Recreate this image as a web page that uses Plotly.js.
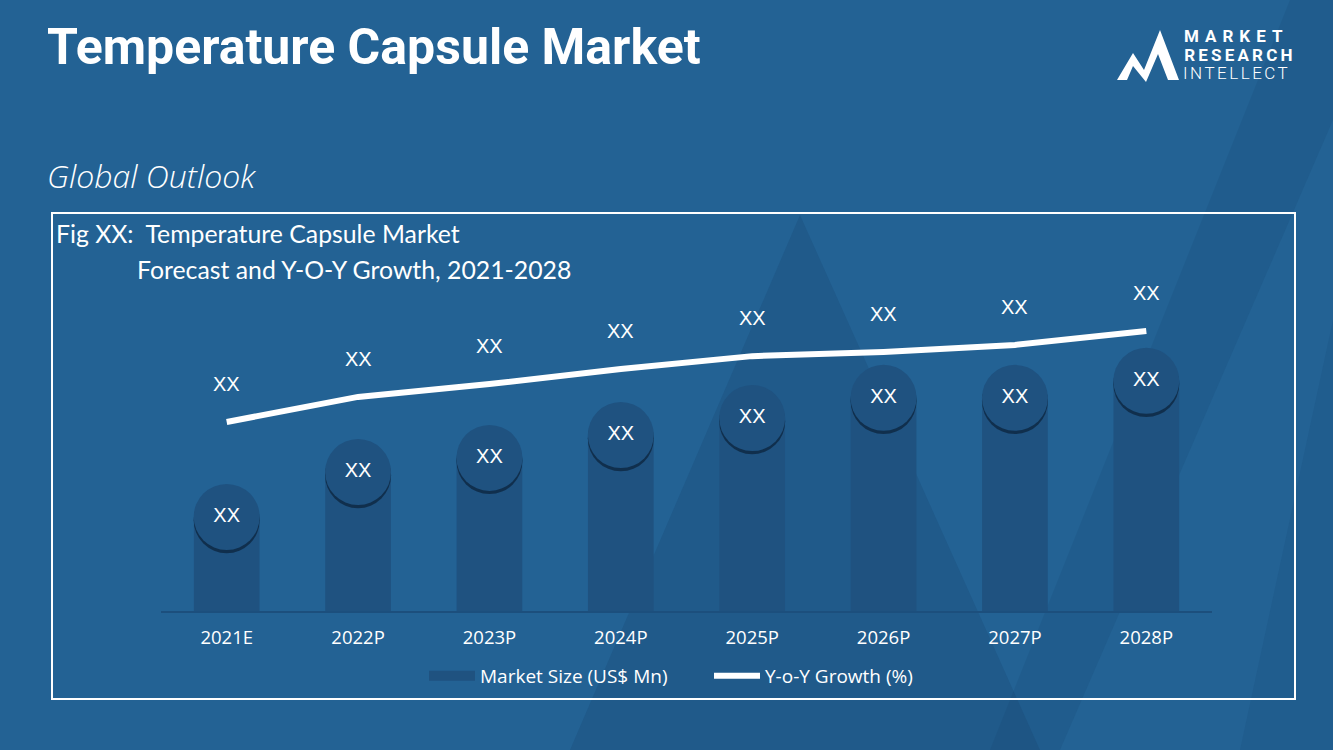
<!DOCTYPE html>
<html>
<head>
<meta charset="utf-8">
<script src="https://cdn.plot.ly/plotly-3.0.1.min.js"></script>
<style>
  html, body { margin: 0; padding: 0; background: #236294; }
  #chart { width: 1333px; height: 750px; }
</style>
</head>
<body>
<div id="chart"></div>
<script>
// ---- data ----
const years = ["2021E", "2022P", "2023P", "2024P", "2025P", "2026P", "2027P", "2028P"];
const marketSize = [29.3, 43.3, 47.7, 54.8, 60.1, 66.4, 66.4, 71.7];
const yoyGrowth = [5.89, 6.67, 7.07, 7.54, 7.94, 8.07, 8.29, 8.72];
const barLabels = ["XX", "XX", "XX", "XX", "XX", "XX", "XX", "XX"];
const lineLabels = ["XX", "XX", "XX", "XX", "XX", "XX", "XX", "XX"];

// ---- layout geometry ----
const W = 1333, H = 750;
const M = { l: 161, r: 121, t: 290, b: 139 };
const PW = W - M.l - M.r, PH = H - M.t - M.b;
const px = v => (v - M.l) / PW;
const py = v => (H - M.b - v) / PH;

const BG = "#236294";
const BAR = "#1f5280";
const WHITE = "#ffffff";

const shadowY = marketSize.map(v => v - 1.0);

const traces = [
  { type: "bar", x: years, y: marketSize, marker: { color: BAR }, width: 0.5,
    showlegend: false, hoverinfo: "skip" },
  { type: "scatter", mode: "markers", x: years, y: shadowY,
    marker: { size: 66, color: "rgba(12,36,60,0.75)", line: { width: 0 } },
    showlegend: false, hoverinfo: "skip", cliponaxis: false },
  { type: "scatter", mode: "markers+text", x: years, y: marketSize, text: barLabels,
    textposition: "middle center",
    textfont: { family: "Liberation Sans, Arial, sans-serif", size: 20, color: WHITE },
    marker: { size: 66, color: BAR, line: { width: 0 } },
    showlegend: false, hoverinfo: "skip", cliponaxis: false },
  { type: "scatter", mode: "lines", x: years, y: yoyGrowth, yaxis: "y2",
    line: { color: WHITE, width: 6 }, showlegend: false, hoverinfo: "skip", cliponaxis: false },
  // legend entries
  { type: "scatter", mode: "lines", x: [null], y: [null], name: "Market Size (US$ Mn)",
    line: { color: BAR, width: 11 }, hoverinfo: "skip" },
  { type: "scatter", mode: "lines", x: [null], y: [null], name: "Y-o-Y Growth (%)",
    line: { color: WHITE, width: 6 }, hoverinfo: "skip" }
];

const annotations = [];
years.forEach((yr, i) => {
  annotations.push({ x: yr, y: yoyGrowth[i], xref: "x", yref: "y2", text: lineLabels[i],
    showarrow: false, yshift: 38,
    font: { family: "Liberation Sans, Arial, sans-serif", size: 20, color: WHITE } });
});
const txt = (x, y, text, font, extra) => Object.assign({
  x: px(x), y: py(y), xref: "paper", yref: "paper", text: text, showarrow: false,
  xanchor: "left", yanchor: "middle", font: font }, extra || {});
annotations.push(txt(45, 47, "<b>Temperature Capsule Market</b>",
  { family: "Roboto, sans-serif", size: 50, color: WHITE }));
annotations.push(txt(45, 175, "<i>Global Outlook</i>",
  { family: "Open Sans, sans-serif", size: 32, color: WHITE, weight: 300 }));
annotations.push(txt(54, 233, "Fig XX:  Temperature Capsule Market",
  { family: "Lato, sans-serif", size: 24.8, color: WHITE }));
annotations.push(txt(135, 269, "Forecast and Y-O-Y Growth, 2021-2028",
  { family: "Lato, sans-serif", size: 24.8, color: WHITE }));
annotations.push(txt(1200, 36, "<b>MARKET</b>",
  { family: "Roboto, sans-serif", size: 17, color: WHITE }));
annotations.push(txt(1195, 55, "<b>RESEARCH</b>",
  { family: "Roboto, sans-serif", size: 17, color: WHITE }));
annotations.push(txt(1192, 73, "INTELLECT",
  { family: "Roboto, sans-serif", size: 17, color: WHITE }));

const poly = (pts) => "M" + pts.map(p => px(p[0]) + "," + py(p[1])).join(" L") + " Z";

const shapes = [
  // background decorative triangles
  { type: "path", xref: "paper", yref: "paper", layer: "below", line: { width: 0 },
    fillcolor: "rgba(20,60,100,0.2)", path: poly([[800, 215], [570, 750], [1040, 750]]) },
  { type: "path", xref: "paper", yref: "paper", layer: "below", line: { width: 0 },
    fillcolor: "rgba(20,60,100,0.15)", path: poly([[1290, 0], [1333, 0], [1333, 120], [1060, 750], [990, 750]]) },
  { type: "path", xref: "paper", yref: "paper", layer: "below", line: { width: 0 },
    fillcolor: "rgba(20,60,100,0.12)", path: poly([[1333, 320], [1333, 750], [1240, 750]]) },
  // frame
  { type: "rect", xref: "paper", yref: "paper", x0: px(52), x1: px(1295), y0: py(213), y1: py(699),
    line: { color: WHITE, width: 2 }, fillcolor: "rgba(0,0,0,0)" },
  // logo mark
  { type: "path", xref: "paper", yref: "paper", line: { width: 0 }, fillcolor: WHITE,
    path: poly([[1117, 80], [1133, 53], [1144, 70], [1160, 30], [1179, 80], [1168, 80],
                [1158, 54], [1146, 82], [1133, 66], [1127, 80]]) }
];

const layout = {
  width: W, height: H, margin: M,
  paper_bgcolor: BG, plot_bgcolor: "rgba(0,0,0,0)",
  showlegend: true,
  legend: { orientation: "h", x: px(424), xanchor: "left", y: py(676), yanchor: "middle",
    font: { family: "Open Sans, sans-serif", size: 19, color: WHITE }, bgcolor: "rgba(0,0,0,0)",
    itemwidth: 46, entrywidth: 224, entrywidthmode: "pixels" },
  xaxis: { type: "category", range: [-0.5, 7.5], showline: true, linecolor: "#1c4f7d", linewidth: 1.5,
    ticks: "", showgrid: false, zeroline: false, ticklabelstandoff: 9,
    tickfont: { family: "Open Sans, sans-serif", size: 18.5, color: WHITE }, fixedrange: true },
  yaxis: { range: [0, 100], visible: false, fixedrange: true },
  yaxis2: { range: [0, 10], overlaying: "y", visible: false, fixedrange: true },
  annotations: annotations,
  shapes: shapes
};

Plotly.newPlot("chart", traces, layout, { displayModeBar: false, staticPlot: true }).then(() => {
  document.querySelectorAll(".annotation-text").forEach(t => {
    const s = t.textContent;
    if (s === "MARKET") t.style.letterSpacing = "6px";
    if (s === "RESEARCH") t.style.letterSpacing = "3.2px";
    if (s === "INTELLECT") { t.style.letterSpacing = "2.5px"; t.style.fontWeight = "300"; }
  });
});
</script>
</body>
</html>
